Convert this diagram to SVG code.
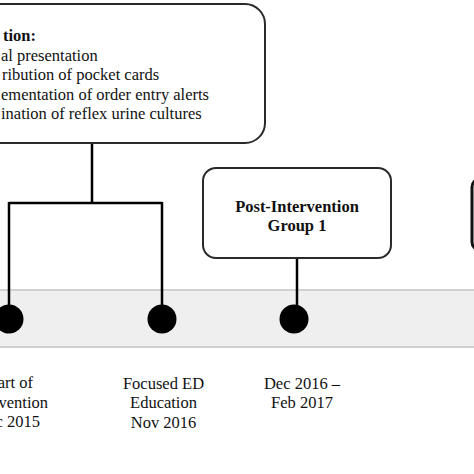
<svg xmlns="http://www.w3.org/2000/svg" width="474" height="474" viewBox="0 0 474 474">
<style>
.box{fill:#fff;stroke:#2a2a2a;stroke-width:2}
.t{font-family:"Liberation Serif","Times New Roman",serif;font-size:16.5px;fill:#111}
.b{font-weight:bold}
.c{fill:none;stroke:#000;stroke-width:2.5}
.dot{fill:#000}
</style>
<rect x="0" y="0" width="474" height="474" fill="#fff"/>
<g id="band">
<rect x="-2" y="290" width="480" height="57" fill="#efefef" stroke="#c4c4c4" stroke-width="1.5"/>
</g>
<g id="connectors">
<path class="c" d="M92,143 V203 M9,203 H162 M9,202 V306 M162,202 V306 M297,258 V306"/>
</g>
<g id="intervention-box">
<rect class="box" x="-40" y="4" width="305" height="139" rx="20"/>
<text class="t b" x="3" y="41">tion:</text>
<text class="t" x="1" y="61">al presentation</text>
<text class="t" x="2" y="80">ribution of pocket cards</text>
<text class="t" x="1" y="100">ementation of order entry alerts</text>
<text class="t" x="1" y="119">ination of reflex urine cultures</text>
</g>
<g id="post-group-1">
<rect class="box" x="203" y="168" width="188" height="90" rx="13"/>
<text class="t b" x="297" y="212" text-anchor="middle">Post-Intervention</text>
<text class="t b" x="297" y="231" text-anchor="middle">Group 1</text>
</g>
<g id="right-box">
<rect x="472" y="179" width="60" height="71" rx="8" fill="#fff" stroke="#111" stroke-width="3"/>
</g>
<g id="dot-start">
<circle class="dot" cx="9" cy="319" r="14.5"/>
<text class="t" x="33" y="388" text-anchor="end">art of</text>
<text class="t" x="48" y="408" text-anchor="end">vention</text>
<text class="t" x="40" y="427" text-anchor="end">c 2015</text>
</g>
<g id="dot-education">
<circle class="dot" cx="162" cy="319" r="14.5"/>
<text class="t" x="163.5" y="389" text-anchor="middle">Focused ED</text>
<text class="t" x="163.5" y="408" text-anchor="middle">Education</text>
<text class="t" x="163.5" y="428" text-anchor="middle">Nov 2016</text>
</g>
<g id="dot-post1">
<circle class="dot" cx="294" cy="319" r="14.5"/>
<text class="t" x="302" y="389" text-anchor="middle">Dec 2016 –</text>
<text class="t" x="302" y="408" text-anchor="middle">Feb 2017</text>
</g>
</svg>
